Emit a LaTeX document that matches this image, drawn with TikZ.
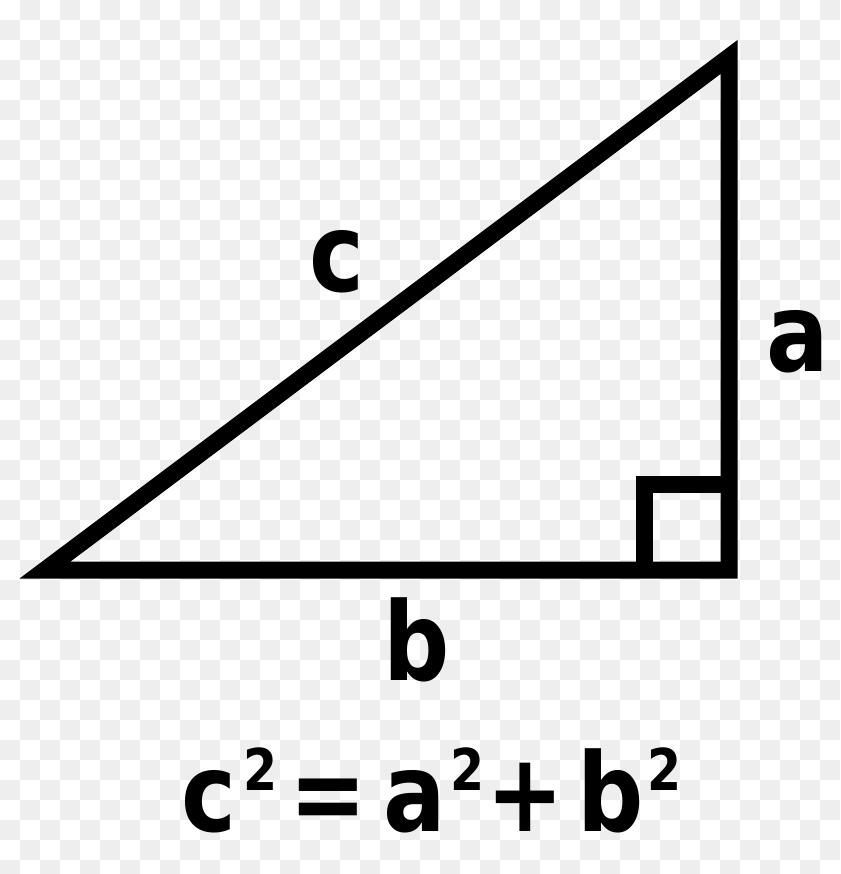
\documentclass[tikz,border=0pt]{standalone}
\usepackage{fontspec}
\setmainfont{DejaVu Sans}
\newfontfamily\lblfont{DejaVu Sans Bold}[FakeStretch=0.85]
\definecolor{checker}{HTML}{EEEEEE}
\tikzset{
  lbl/.style={inner sep=0pt, anchor=base, font=\fontsize{109}{120}\lblfont},
  sup/.style={inner sep=0pt, anchor=base, font=\fontsize{57.6}{60}\lblfont},
  edge/.style={line width=17pt, line join=miter, black}
}
\begin{document}
\begin{tikzpicture}[x=1pt,y=-1pt]
\useasboundingbox (0,0) rectangle (840,874);
\begin{scope}
\clip (0,0) rectangle (840,874);
\fill[white] (0,0) rectangle (840,874);
\foreach \j in {0,...,43}{
  \foreach \i in {0,...,41}{
    \pgfmathtruncatemacro\myparity{mod(\i+\j,2)}
    \ifnum\myparity=1 \fill[checker] (\i*20,\j*20) rectangle ++(20,20);\fi
  }
}
\end{scope}
\coordinate (A) at (45,570);
\coordinate (B) at (729,570);
\coordinate (C) at (729,57);
\coordinate (R1) at (644,570);
\coordinate (R2) at (644,484);
\coordinate (R3) at (729,484);
\draw[edge] (A) -- (B) -- (C) -- cycle;
\draw[edge] (R1) -- (R2) -- (R3);
\node[lbl] (lc) at (336.7,291.5) {c};
\node[lbl] (la) at (798,371.5) {a};
\node[lbl] (lb) at (416.5,680) {b};
\node[lbl] (fc) at (209.4,831.5) {c};
\node[sup] (s1) at (261,790) {2};
\node[lbl] (feq) at (328,831.5) {=};
\node[lbl] (fa) at (415,831.5) {a};
\node[sup] (s2) at (468,790) {2};
\node[lbl] (fplus) at (525,831.5) {+};
\node[lbl] (fb) at (610.8,831.5) {b};
\node[sup] (s3) at (665,790) {2};
\end{tikzpicture}
\end{document}
